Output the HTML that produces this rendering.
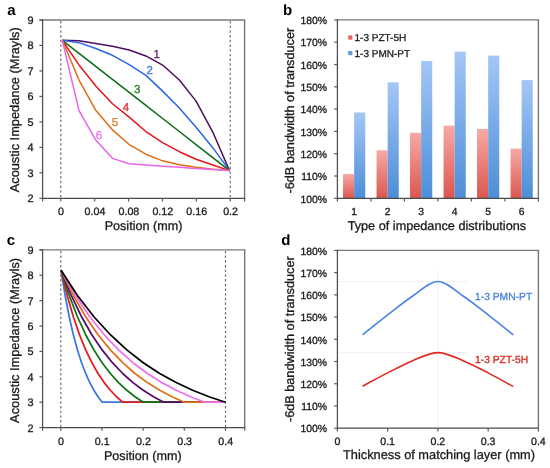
<!DOCTYPE html>
<html><head><meta charset="utf-8"><style>
html,body{margin:0;padding:0;background:#fff;width:550px;height:468px;overflow:hidden}
svg{display:block;font-family:"Liberation Sans",sans-serif;will-change:transform;text-rendering:geometricPrecision}
</style></head><body>
<svg width="550" height="468" viewBox="0 0 550 468">
<rect width="550" height="468" fill="#fff"/>
<line x1="42" y1="20" x2="245.2" y2="20" stroke="#7a7a7a" stroke-width="1.4"/>
<line x1="244.6" y1="20" x2="244.6" y2="198.3" stroke="#727272" stroke-width="1.35"/>
<line x1="42.6" y1="19.4" x2="42.6" y2="198.9" stroke="#525252" stroke-width="1.3"/>
<line x1="42" y1="198.3" x2="245.2" y2="198.3" stroke="#4a4a4a" stroke-width="1.3"/>
<line x1="39.4" y1="198.3" x2="42.6" y2="198.3" stroke="#595959" stroke-width="1.2"/>
<text x="33.5" y="202.3" font-size="10.9" text-anchor="end" fill="#1a1a1a" stroke="#1a1a1a" stroke-width="0.3" font-weight="normal">2</text>
<line x1="39.4" y1="172.83" x2="42.6" y2="172.83" stroke="#595959" stroke-width="1.2"/>
<text x="33.5" y="176.83" font-size="10.9" text-anchor="end" fill="#1a1a1a" stroke="#1a1a1a" stroke-width="0.3" font-weight="normal">3</text>
<line x1="39.4" y1="147.36" x2="42.6" y2="147.36" stroke="#595959" stroke-width="1.2"/>
<text x="33.5" y="151.36" font-size="10.9" text-anchor="end" fill="#1a1a1a" stroke="#1a1a1a" stroke-width="0.3" font-weight="normal">4</text>
<line x1="39.4" y1="121.89" x2="42.6" y2="121.89" stroke="#595959" stroke-width="1.2"/>
<text x="33.5" y="125.89" font-size="10.9" text-anchor="end" fill="#1a1a1a" stroke="#1a1a1a" stroke-width="0.3" font-weight="normal">5</text>
<line x1="39.4" y1="96.41" x2="42.6" y2="96.41" stroke="#595959" stroke-width="1.2"/>
<text x="33.5" y="100.41" font-size="10.9" text-anchor="end" fill="#1a1a1a" stroke="#1a1a1a" stroke-width="0.3" font-weight="normal">6</text>
<line x1="39.4" y1="70.94" x2="42.6" y2="70.94" stroke="#595959" stroke-width="1.2"/>
<text x="33.5" y="74.94" font-size="10.9" text-anchor="end" fill="#1a1a1a" stroke="#1a1a1a" stroke-width="0.3" font-weight="normal">7</text>
<line x1="39.4" y1="45.47" x2="42.6" y2="45.47" stroke="#595959" stroke-width="1.2"/>
<text x="33.5" y="49.47" font-size="10.9" text-anchor="end" fill="#1a1a1a" stroke="#1a1a1a" stroke-width="0.3" font-weight="normal">8</text>
<line x1="39.4" y1="20" x2="42.6" y2="20" stroke="#595959" stroke-width="1.2"/>
<text x="33.5" y="24" font-size="10.9" text-anchor="end" fill="#1a1a1a" stroke="#1a1a1a" stroke-width="0.3" font-weight="normal">9</text>
<line x1="60.8" y1="198.3" x2="60.8" y2="201.5" stroke="#595959" stroke-width="1.2"/>
<text x="61.1" y="215.2" font-size="10.7" text-anchor="middle" fill="#1a1a1a" stroke="#1a1a1a" stroke-width="0.3" font-weight="normal">0</text>
<line x1="94.7" y1="198.3" x2="94.7" y2="201.5" stroke="#595959" stroke-width="1.2"/>
<text x="95" y="215.2" font-size="10.7" text-anchor="middle" fill="#1a1a1a" stroke="#1a1a1a" stroke-width="0.3" font-weight="normal">0.04</text>
<line x1="128.6" y1="198.3" x2="128.6" y2="201.5" stroke="#595959" stroke-width="1.2"/>
<text x="128.9" y="215.2" font-size="10.7" text-anchor="middle" fill="#1a1a1a" stroke="#1a1a1a" stroke-width="0.3" font-weight="normal">0.08</text>
<line x1="162.5" y1="198.3" x2="162.5" y2="201.5" stroke="#595959" stroke-width="1.2"/>
<text x="162.8" y="215.2" font-size="10.7" text-anchor="middle" fill="#1a1a1a" stroke="#1a1a1a" stroke-width="0.3" font-weight="normal">0.12</text>
<line x1="196.4" y1="198.3" x2="196.4" y2="201.5" stroke="#595959" stroke-width="1.2"/>
<text x="196.7" y="215.2" font-size="10.7" text-anchor="middle" fill="#1a1a1a" stroke="#1a1a1a" stroke-width="0.3" font-weight="normal">0.16</text>
<line x1="230.3" y1="198.3" x2="230.3" y2="201.5" stroke="#595959" stroke-width="1.2"/>
<text x="230.6" y="215.2" font-size="10.7" text-anchor="middle" fill="#1a1a1a" stroke="#1a1a1a" stroke-width="0.3" font-weight="normal">0.2</text>
<line x1="42.6" y1="198.3" x2="42.6" y2="201.5" stroke="#595959" stroke-width="1.2"/>
<line x1="244.6" y1="198.3" x2="244.6" y2="201.5" stroke="#595959" stroke-width="1.2"/>
<line x1="39.4" y1="20" x2="42.6" y2="20" stroke="#595959" stroke-width="1.2"/>
<line x1="60.8" y1="21" x2="60.8" y2="198.3" stroke="#707070" stroke-width="1.2" stroke-dasharray="2.4 2.3"/>
<line x1="230.3" y1="21" x2="230.3" y2="198.3" stroke="#707070" stroke-width="1.2" stroke-dasharray="2.4 2.3"/>
<text x="11.3" y="14.8" font-size="15" text-anchor="middle" fill="#000" stroke="#000" stroke-width="0" font-weight="bold">a</text>
<text x="19.2" y="109.8" font-size="12.8" text-anchor="middle" fill="#1a1a1a" stroke="#1a1a1a" stroke-width="0.3" font-weight="normal" transform="rotate(-90 19.2 109.8)">Acoustic Impedance (Mrayls)</text>
<text x="143.5" y="229.7" font-size="12.6" text-anchor="middle" fill="#1a1a1a" stroke="#1a1a1a" stroke-width="0.3" font-weight="normal">Position (mm)</text>
<polyline points="62.3,40.3 79.02,40.82 95.74,43.56 112.46,46.16 129.18,49.94 145.9,55.94 162.62,65.06 179.34,80.04 196.06,101.15 212.78,132.03 229.5,170.6" fill="none" stroke="#4e0e5e" stroke-width="1.5" stroke-linejoin="round"/>
<polyline points="62.3,40.3 79.02,42.65 95.74,48.51 112.46,55.28 129.18,64.67 145.9,75.35 162.62,91.12 179.34,108.06 196.06,127.21 212.78,147.67 229.5,170.6" fill="none" stroke="#2a66e4" stroke-width="1.5" stroke-linejoin="round"/>
<polyline points="62.3,40.3 79.02,53.33 95.74,66.36 112.46,79.39 129.18,92.42 145.9,105.45 162.62,118.48 179.34,131.51 196.06,144.54 212.78,157.57 229.5,170.6" fill="none" stroke="#0c6c10" stroke-width="1.5" stroke-linejoin="round"/>
<polyline points="62.3,40.3 79.02,64.93 95.74,85.91 112.46,103.76 129.18,117.18 145.9,131.51 162.62,142.59 179.34,151.71 196.06,159.26 212.78,165 229.5,170.6" fill="none" stroke="#e8141a" stroke-width="1.5" stroke-linejoin="round"/>
<polyline points="62.3,40.3 79.02,80.04 95.74,110.27 112.46,129.82 129.18,144.54 145.9,154.18 162.62,160.83 179.34,164.74 196.06,167.34 212.78,169.3 229.5,170.6" fill="none" stroke="#e06c14" stroke-width="1.5" stroke-linejoin="round"/>
<polyline points="62.3,40.3 79.02,110.66 95.74,140.11 112.46,158.35 129.18,163.69 145.9,165 162.62,166.17 179.34,167.34 196.06,168.38 212.78,169.56 229.5,170.6" fill="none" stroke="#ec62ec" stroke-width="1.5" stroke-linejoin="round"/>
<text x="156.7" y="58.2" font-size="11.5" text-anchor="middle" fill="#5a1a6a" stroke="#5a1a6a" stroke-width="0.3" font-weight="normal">1</text>
<text x="149.6" y="74" font-size="11.5" text-anchor="middle" fill="#3a72e4" stroke="#3a72e4" stroke-width="0.3" font-weight="normal">2</text>
<text x="137.2" y="93.4" font-size="11.5" text-anchor="middle" fill="#2a7a2a" stroke="#2a7a2a" stroke-width="0.3" font-weight="normal">3</text>
<text x="125.9" y="111.3" font-size="11.5" text-anchor="middle" fill="#e03030" stroke="#e03030" stroke-width="0.3" font-weight="normal">4</text>
<text x="115" y="126.1" font-size="11.5" text-anchor="middle" fill="#e87a30" stroke="#e87a30" stroke-width="0.3" font-weight="normal">5</text>
<text x="98.9" y="138.8" font-size="11.5" text-anchor="middle" fill="#ec70ec" stroke="#ec70ec" stroke-width="0.3" font-weight="normal">6</text>
<defs><linearGradient id="gr" x1="0" y1="0" x2="0" y2="1"><stop offset="0" stop-color="#f7aaa6"/><stop offset="1" stop-color="#dc564e"/></linearGradient><linearGradient id="gb" x1="0" y1="0" x2="0" y2="1"><stop offset="0" stop-color="#a4c6f6"/><stop offset="1" stop-color="#4d8ed8"/></linearGradient></defs>
<rect x="343.05" y="173.99" width="11.1" height="24.31" fill="url(#gr)"/>
<rect x="354.15" y="112.45" width="11.1" height="85.86" fill="url(#gb)"/>
<rect x="376.55" y="150.36" width="11.1" height="47.94" fill="url(#gr)"/>
<rect x="387.65" y="82.34" width="11.1" height="115.96" fill="url(#gb)"/>
<rect x="410.05" y="132.74" width="11.1" height="65.56" fill="url(#gr)"/>
<rect x="421.15" y="60.93" width="11.1" height="137.37" fill="url(#gb)"/>
<rect x="443.55" y="125.6" width="11.1" height="72.7" fill="url(#gr)"/>
<rect x="454.65" y="51.57" width="11.1" height="146.73" fill="url(#gb)"/>
<rect x="477.05" y="128.95" width="11.1" height="69.35" fill="url(#gr)"/>
<rect x="488.15" y="55.58" width="11.1" height="142.72" fill="url(#gb)"/>
<rect x="510.55" y="148.57" width="11.1" height="49.73" fill="url(#gr)"/>
<rect x="521.65" y="80.11" width="11.1" height="118.19" fill="url(#gb)"/>
<line x1="336.8" y1="19.9" x2="539" y2="19.9" stroke="#7a7a7a" stroke-width="1.4"/>
<line x1="538.4" y1="19.9" x2="538.4" y2="198.3" stroke="#727272" stroke-width="1.35"/>
<line x1="337.4" y1="19.3" x2="337.4" y2="198.9" stroke="#525252" stroke-width="1.3"/>
<line x1="336.8" y1="198.3" x2="539" y2="198.3" stroke="#4a4a4a" stroke-width="1.3"/>
<line x1="334.2" y1="198.3" x2="337.4" y2="198.3" stroke="#595959" stroke-width="1.2"/>
<text x="327.1" y="202.5" font-size="10.4" text-anchor="end" fill="#1a1a1a" stroke="#1a1a1a" stroke-width="0.3" font-weight="normal">100%</text>
<line x1="334.2" y1="176" x2="337.4" y2="176" stroke="#595959" stroke-width="1.2"/>
<text x="327.1" y="180.2" font-size="10.4" text-anchor="end" fill="#1a1a1a" stroke="#1a1a1a" stroke-width="0.3" font-weight="normal">110%</text>
<line x1="334.2" y1="153.7" x2="337.4" y2="153.7" stroke="#595959" stroke-width="1.2"/>
<text x="327.1" y="157.9" font-size="10.4" text-anchor="end" fill="#1a1a1a" stroke="#1a1a1a" stroke-width="0.3" font-weight="normal">120%</text>
<line x1="334.2" y1="131.4" x2="337.4" y2="131.4" stroke="#595959" stroke-width="1.2"/>
<text x="327.1" y="135.6" font-size="10.4" text-anchor="end" fill="#1a1a1a" stroke="#1a1a1a" stroke-width="0.3" font-weight="normal">130%</text>
<line x1="334.2" y1="109.1" x2="337.4" y2="109.1" stroke="#595959" stroke-width="1.2"/>
<text x="327.1" y="113.3" font-size="10.4" text-anchor="end" fill="#1a1a1a" stroke="#1a1a1a" stroke-width="0.3" font-weight="normal">140%</text>
<line x1="334.2" y1="86.8" x2="337.4" y2="86.8" stroke="#595959" stroke-width="1.2"/>
<text x="327.1" y="91" font-size="10.4" text-anchor="end" fill="#1a1a1a" stroke="#1a1a1a" stroke-width="0.3" font-weight="normal">150%</text>
<line x1="334.2" y1="64.5" x2="337.4" y2="64.5" stroke="#595959" stroke-width="1.2"/>
<text x="327.1" y="68.7" font-size="10.4" text-anchor="end" fill="#1a1a1a" stroke="#1a1a1a" stroke-width="0.3" font-weight="normal">160%</text>
<line x1="334.2" y1="42.2" x2="337.4" y2="42.2" stroke="#595959" stroke-width="1.2"/>
<text x="327.1" y="46.4" font-size="10.4" text-anchor="end" fill="#1a1a1a" stroke="#1a1a1a" stroke-width="0.3" font-weight="normal">170%</text>
<line x1="334.2" y1="19.9" x2="337.4" y2="19.9" stroke="#595959" stroke-width="1.2"/>
<text x="327.1" y="24.1" font-size="10.4" text-anchor="end" fill="#1a1a1a" stroke="#1a1a1a" stroke-width="0.3" font-weight="normal">180%</text>
<line x1="337.4" y1="198.3" x2="337.4" y2="201.5" stroke="#595959" stroke-width="1.2"/>
<line x1="370.9" y1="198.3" x2="370.9" y2="201.5" stroke="#595959" stroke-width="1.2"/>
<line x1="404.4" y1="198.3" x2="404.4" y2="201.5" stroke="#595959" stroke-width="1.2"/>
<line x1="437.9" y1="198.3" x2="437.9" y2="201.5" stroke="#595959" stroke-width="1.2"/>
<line x1="471.4" y1="198.3" x2="471.4" y2="201.5" stroke="#595959" stroke-width="1.2"/>
<line x1="504.9" y1="198.3" x2="504.9" y2="201.5" stroke="#595959" stroke-width="1.2"/>
<line x1="538.4" y1="198.3" x2="538.4" y2="201.5" stroke="#595959" stroke-width="1.2"/>
<text x="354.15" y="215.3" font-size="10.3" text-anchor="middle" fill="#1a1a1a" stroke="#1a1a1a" stroke-width="0.3" font-weight="normal">1</text>
<text x="387.65" y="215.3" font-size="10.3" text-anchor="middle" fill="#1a1a1a" stroke="#1a1a1a" stroke-width="0.3" font-weight="normal">2</text>
<text x="421.15" y="215.3" font-size="10.3" text-anchor="middle" fill="#1a1a1a" stroke="#1a1a1a" stroke-width="0.3" font-weight="normal">3</text>
<text x="454.65" y="215.3" font-size="10.3" text-anchor="middle" fill="#1a1a1a" stroke="#1a1a1a" stroke-width="0.3" font-weight="normal">4</text>
<text x="488.15" y="215.3" font-size="10.3" text-anchor="middle" fill="#1a1a1a" stroke="#1a1a1a" stroke-width="0.3" font-weight="normal">5</text>
<text x="521.65" y="215.3" font-size="10.3" text-anchor="middle" fill="#1a1a1a" stroke="#1a1a1a" stroke-width="0.3" font-weight="normal">6</text>
<rect x="348.2" y="35.4" width="4.2" height="4.2" fill="#e8635c"/>
<rect x="348.2" y="51" width="4.2" height="4.2" fill="#5f9ae0"/>
<text x="354.5" y="41.2" font-size="10" text-anchor="start" fill="#1a1a1a" stroke="#1a1a1a" stroke-width="0.3" font-weight="normal">1-3 PZT-5H</text>
<text x="354.5" y="56.5" font-size="10" text-anchor="start" fill="#1a1a1a" stroke="#1a1a1a" stroke-width="0.3" font-weight="normal">1-3 PMN-PT</text>
<text x="294.5" y="110.7" font-size="12.7" text-anchor="middle" fill="#1a1a1a" stroke="#1a1a1a" stroke-width="0.3" font-weight="normal" transform="rotate(-90 294.5 110.7)">-6dB bandwidth of transducer</text>
<text x="436.9" y="229.8" font-size="12.7" text-anchor="middle" fill="#1a1a1a" stroke="#1a1a1a" stroke-width="0.3" font-weight="normal">Type of impedance distributions</text>
<text x="287.5" y="15" font-size="15" text-anchor="middle" fill="#000" stroke="#000" stroke-width="0" font-weight="bold">b</text>
<line x1="42" y1="249.9" x2="245.3" y2="249.9" stroke="#7a7a7a" stroke-width="1.4"/>
<line x1="244.7" y1="249.9" x2="244.7" y2="427.6" stroke="#727272" stroke-width="1.35"/>
<line x1="42.6" y1="249.3" x2="42.6" y2="428.2" stroke="#525252" stroke-width="1.3"/>
<line x1="42" y1="427.6" x2="245.3" y2="427.6" stroke="#4a4a4a" stroke-width="1.3"/>
<line x1="39.4" y1="427.6" x2="42.6" y2="427.6" stroke="#595959" stroke-width="1.2"/>
<text x="33.5" y="431.6" font-size="10.9" text-anchor="end" fill="#1a1a1a" stroke="#1a1a1a" stroke-width="0.3" font-weight="normal">2</text>
<line x1="39.4" y1="402.21" x2="42.6" y2="402.21" stroke="#595959" stroke-width="1.2"/>
<text x="33.5" y="406.21" font-size="10.9" text-anchor="end" fill="#1a1a1a" stroke="#1a1a1a" stroke-width="0.3" font-weight="normal">3</text>
<line x1="39.4" y1="376.83" x2="42.6" y2="376.83" stroke="#595959" stroke-width="1.2"/>
<text x="33.5" y="380.83" font-size="10.9" text-anchor="end" fill="#1a1a1a" stroke="#1a1a1a" stroke-width="0.3" font-weight="normal">4</text>
<line x1="39.4" y1="351.44" x2="42.6" y2="351.44" stroke="#595959" stroke-width="1.2"/>
<text x="33.5" y="355.44" font-size="10.9" text-anchor="end" fill="#1a1a1a" stroke="#1a1a1a" stroke-width="0.3" font-weight="normal">5</text>
<line x1="39.4" y1="326.06" x2="42.6" y2="326.06" stroke="#595959" stroke-width="1.2"/>
<text x="33.5" y="330.06" font-size="10.9" text-anchor="end" fill="#1a1a1a" stroke="#1a1a1a" stroke-width="0.3" font-weight="normal">6</text>
<line x1="39.4" y1="300.67" x2="42.6" y2="300.67" stroke="#595959" stroke-width="1.2"/>
<text x="33.5" y="304.67" font-size="10.9" text-anchor="end" fill="#1a1a1a" stroke="#1a1a1a" stroke-width="0.3" font-weight="normal">7</text>
<line x1="39.4" y1="275.29" x2="42.6" y2="275.29" stroke="#595959" stroke-width="1.2"/>
<text x="33.5" y="279.29" font-size="10.9" text-anchor="end" fill="#1a1a1a" stroke="#1a1a1a" stroke-width="0.3" font-weight="normal">8</text>
<line x1="39.4" y1="249.9" x2="42.6" y2="249.9" stroke="#595959" stroke-width="1.2"/>
<text x="33.5" y="253.9" font-size="10.9" text-anchor="end" fill="#1a1a1a" stroke="#1a1a1a" stroke-width="0.3" font-weight="normal">9</text>
<line x1="60.8" y1="427.6" x2="60.8" y2="430.8" stroke="#595959" stroke-width="1.2"/>
<text x="61.1" y="445" font-size="10.7" text-anchor="middle" fill="#1a1a1a" stroke="#1a1a1a" stroke-width="0.3" font-weight="normal">0</text>
<line x1="101.97" y1="427.6" x2="101.97" y2="430.8" stroke="#595959" stroke-width="1.2"/>
<text x="102.27" y="445" font-size="10.7" text-anchor="middle" fill="#1a1a1a" stroke="#1a1a1a" stroke-width="0.3" font-weight="normal">0.1</text>
<line x1="143.15" y1="427.6" x2="143.15" y2="430.8" stroke="#595959" stroke-width="1.2"/>
<text x="143.45" y="445" font-size="10.7" text-anchor="middle" fill="#1a1a1a" stroke="#1a1a1a" stroke-width="0.3" font-weight="normal">0.2</text>
<line x1="184.32" y1="427.6" x2="184.32" y2="430.8" stroke="#595959" stroke-width="1.2"/>
<text x="184.62" y="445" font-size="10.7" text-anchor="middle" fill="#1a1a1a" stroke="#1a1a1a" stroke-width="0.3" font-weight="normal">0.3</text>
<line x1="225.5" y1="427.6" x2="225.5" y2="430.8" stroke="#595959" stroke-width="1.2"/>
<text x="225.8" y="445" font-size="10.7" text-anchor="middle" fill="#1a1a1a" stroke="#1a1a1a" stroke-width="0.3" font-weight="normal">0.4</text>
<line x1="42.6" y1="427.6" x2="42.6" y2="430.8" stroke="#595959" stroke-width="1.2"/>
<line x1="244.7" y1="427.6" x2="244.7" y2="430.8" stroke="#595959" stroke-width="1.2"/>
<line x1="39.4" y1="249.9" x2="42.6" y2="249.9" stroke="#595959" stroke-width="1.2"/>
<line x1="60.8" y1="250.9" x2="60.8" y2="427.6" stroke="#707070" stroke-width="1.2" stroke-dasharray="2.4 2.3"/>
<line x1="225.5" y1="250.9" x2="225.5" y2="427.6" stroke="#707070" stroke-width="1.2" stroke-dasharray="2.4 2.3"/>
<text x="11" y="244.6" font-size="15" text-anchor="middle" fill="#000" stroke="#000" stroke-width="0" font-weight="bold">c</text>
<text x="19.5" y="340.4" font-size="12.8" text-anchor="middle" fill="#1a1a1a" stroke="#1a1a1a" stroke-width="0.3" font-weight="normal" transform="rotate(-90 19.5 340.4)">Acoustic Impedance (Mrayls)</text>
<text x="142.8" y="460.3" font-size="12.6" text-anchor="middle" fill="#1a1a1a" stroke="#1a1a1a" stroke-width="0.3" font-weight="normal">Position (mm)</text>
<polyline points="61,270.21 65.11,295.46 69.22,316.76 73.34,334.73 77.45,349.9 81.56,362.69 85.67,373.48 89.79,382.58 93.9,390.27 98.01,396.75 102.12,402.21 225.5,402.21" fill="none" stroke="#3a78e6" stroke-width="1.75" stroke-linejoin="round"/>
<polyline points="61,270.21 67.17,295.46 73.34,316.76 79.51,334.73 85.68,349.9 91.84,362.69 98.01,373.48 104.18,382.58 110.35,390.27 116.52,396.75 122.69,402.21 225.5,402.21" fill="none" stroke="#e8181a" stroke-width="1.75" stroke-linejoin="round"/>
<polyline points="61,270.21 69.22,295.46 77.45,316.76 85.67,334.73 93.9,349.9 102.12,362.69 110.35,373.48 118.57,382.58 126.8,390.27 135.03,396.75 143.25,402.21 225.5,402.21" fill="none" stroke="#0c7410" stroke-width="1.75" stroke-linejoin="round"/>
<polyline points="61,270.21 71.28,295.46 81.56,316.76 91.84,334.73 102.12,349.9 112.41,362.69 122.69,373.48 132.97,382.58 143.25,390.27 153.53,396.75 163.81,402.21 225.5,402.21" fill="none" stroke="#560a6a" stroke-width="1.75" stroke-linejoin="round"/>
<polyline points="61,270.21 73.34,295.46 85.68,316.76 98.01,334.73 110.35,349.9 122.69,362.69 135.03,373.48 147.36,382.58 159.7,390.27 172.04,396.75 184.38,402.21 225.5,402.21" fill="none" stroke="#e0701a" stroke-width="1.75" stroke-linejoin="round"/>
<polyline points="61,270.21 75.39,295.46 89.79,316.76 104.18,334.73 118.57,349.9 132.97,362.69 147.36,373.48 161.76,382.58 176.15,390.27 190.54,396.75 204.94,402.21 225.5,402.21" fill="none" stroke="#f06ef0" stroke-width="1.75" stroke-linejoin="round"/>
<polyline points="61,270.21 77.45,295.46 93.9,316.76 110.35,334.73 126.8,349.9 143.25,362.69 159.7,373.48 176.15,382.58 192.6,390.27 209.05,396.75 225.5,402.21 225.5,402.21" fill="none" stroke="#000000" stroke-width="1.75" stroke-linejoin="round"/>
<line x1="337.4" y1="281.51" x2="467.5" y2="281.51" stroke="#f0f0f0" stroke-width="1"/>
<line x1="337.4" y1="352.63" x2="467.5" y2="352.63" stroke="#f0f0f0" stroke-width="1"/>
<line x1="437.9" y1="270.4" x2="437.9" y2="428.2" stroke="#f0f0f0" stroke-width="1"/>
<line x1="336.8" y1="250.4" x2="539" y2="250.4" stroke="#7a7a7a" stroke-width="1.4"/>
<line x1="538.4" y1="250.4" x2="538.4" y2="428.2" stroke="#727272" stroke-width="1.35"/>
<line x1="337.4" y1="249.8" x2="337.4" y2="428.8" stroke="#525252" stroke-width="1.3"/>
<line x1="336.8" y1="428.2" x2="539" y2="428.2" stroke="#4a4a4a" stroke-width="1.3"/>
<line x1="334.2" y1="428.2" x2="337.4" y2="428.2" stroke="#595959" stroke-width="1.2"/>
<text x="327.1" y="432.4" font-size="10.4" text-anchor="end" fill="#1a1a1a" stroke="#1a1a1a" stroke-width="0.3" font-weight="normal">100%</text>
<line x1="334.2" y1="405.97" x2="337.4" y2="405.97" stroke="#595959" stroke-width="1.2"/>
<text x="327.1" y="410.17" font-size="10.4" text-anchor="end" fill="#1a1a1a" stroke="#1a1a1a" stroke-width="0.3" font-weight="normal">110%</text>
<line x1="334.2" y1="383.75" x2="337.4" y2="383.75" stroke="#595959" stroke-width="1.2"/>
<text x="327.1" y="387.95" font-size="10.4" text-anchor="end" fill="#1a1a1a" stroke="#1a1a1a" stroke-width="0.3" font-weight="normal">120%</text>
<line x1="334.2" y1="361.52" x2="337.4" y2="361.52" stroke="#595959" stroke-width="1.2"/>
<text x="327.1" y="365.72" font-size="10.4" text-anchor="end" fill="#1a1a1a" stroke="#1a1a1a" stroke-width="0.3" font-weight="normal">130%</text>
<line x1="334.2" y1="339.3" x2="337.4" y2="339.3" stroke="#595959" stroke-width="1.2"/>
<text x="327.1" y="343.5" font-size="10.4" text-anchor="end" fill="#1a1a1a" stroke="#1a1a1a" stroke-width="0.3" font-weight="normal">140%</text>
<line x1="334.2" y1="317.07" x2="337.4" y2="317.07" stroke="#595959" stroke-width="1.2"/>
<text x="327.1" y="321.27" font-size="10.4" text-anchor="end" fill="#1a1a1a" stroke="#1a1a1a" stroke-width="0.3" font-weight="normal">150%</text>
<line x1="334.2" y1="294.85" x2="337.4" y2="294.85" stroke="#595959" stroke-width="1.2"/>
<text x="327.1" y="299.05" font-size="10.4" text-anchor="end" fill="#1a1a1a" stroke="#1a1a1a" stroke-width="0.3" font-weight="normal">160%</text>
<line x1="334.2" y1="272.62" x2="337.4" y2="272.62" stroke="#595959" stroke-width="1.2"/>
<text x="327.1" y="276.82" font-size="10.4" text-anchor="end" fill="#1a1a1a" stroke="#1a1a1a" stroke-width="0.3" font-weight="normal">170%</text>
<line x1="334.2" y1="250.4" x2="337.4" y2="250.4" stroke="#595959" stroke-width="1.2"/>
<text x="327.1" y="254.6" font-size="10.4" text-anchor="end" fill="#1a1a1a" stroke="#1a1a1a" stroke-width="0.3" font-weight="normal">180%</text>
<line x1="337.4" y1="428.2" x2="337.4" y2="431.4" stroke="#595959" stroke-width="1.2"/>
<text x="337.4" y="444.8" font-size="10.6" text-anchor="middle" fill="#1a1a1a" stroke="#1a1a1a" stroke-width="0.3" font-weight="normal">0</text>
<line x1="387.65" y1="428.2" x2="387.65" y2="431.4" stroke="#595959" stroke-width="1.2"/>
<text x="387.65" y="444.8" font-size="10.6" text-anchor="middle" fill="#1a1a1a" stroke="#1a1a1a" stroke-width="0.3" font-weight="normal">0.1</text>
<line x1="437.9" y1="428.2" x2="437.9" y2="431.4" stroke="#595959" stroke-width="1.2"/>
<text x="437.9" y="444.8" font-size="10.6" text-anchor="middle" fill="#1a1a1a" stroke="#1a1a1a" stroke-width="0.3" font-weight="normal">0.2</text>
<line x1="488.15" y1="428.2" x2="488.15" y2="431.4" stroke="#595959" stroke-width="1.2"/>
<text x="488.15" y="444.8" font-size="10.6" text-anchor="middle" fill="#1a1a1a" stroke="#1a1a1a" stroke-width="0.3" font-weight="normal">0.3</text>
<line x1="538.4" y1="428.2" x2="538.4" y2="431.4" stroke="#595959" stroke-width="1.2"/>
<text x="538.4" y="444.8" font-size="10.6" text-anchor="middle" fill="#1a1a1a" stroke="#1a1a1a" stroke-width="0.3" font-weight="normal">0.4</text>
<text x="294.4" y="339.2" font-size="12.7" text-anchor="middle" fill="#1a1a1a" stroke="#1a1a1a" stroke-width="0.3" font-weight="normal" transform="rotate(-90 294.4 339.2)">-6dB bandwidth of transducer</text>
<text x="439" y="459.3" font-size="12.8" text-anchor="middle" fill="#1a1a1a" stroke="#1a1a1a" stroke-width="0.3" font-weight="normal">Thickness of matching layer (mm)</text>
<text x="285.9" y="244.6" font-size="15" text-anchor="middle" fill="#000" stroke="#000" stroke-width="0" font-weight="bold">d</text>
<path d="M362.52,334.86 C366.71,331.52 379.27,321.33 387.65,314.85 C396.02,308.37 404.4,301.52 412.77,295.96 C421.15,290.41 429.52,281.51 437.9,281.51 C446.27,281.51 454.65,290.41 463.02,295.96 C471.4,301.52 479.77,308.37 488.15,314.85 C496.52,321.33 509.09,331.52 513.27,334.86" fill="none" stroke="#4a84e4" stroke-width="1.6"/>
<path d="M362.52,386.19 C366.71,383.97 379.27,377.12 387.65,372.86 C396.02,368.6 404.4,364.01 412.77,360.64 C421.15,357.27 429.52,352.63 437.9,352.63 C446.27,352.63 454.65,357.27 463.02,360.64 C471.4,364.01 479.77,368.53 488.15,372.86 C496.52,377.19 509.09,384.34 513.27,386.64" fill="none" stroke="#e0281e" stroke-width="1.6"/>
<text x="475" y="299.5" font-size="10.3" text-anchor="start" fill="#4a80dc" stroke="#4a80dc" stroke-width="0.3" font-weight="normal">1-3 PMN-PT</text>
<text x="475" y="363.1" font-size="10.3" text-anchor="start" fill="#d8281e" stroke="#d8281e" stroke-width="0.3" font-weight="normal">1-3 PZT-5H</text>
</svg></body></html>
